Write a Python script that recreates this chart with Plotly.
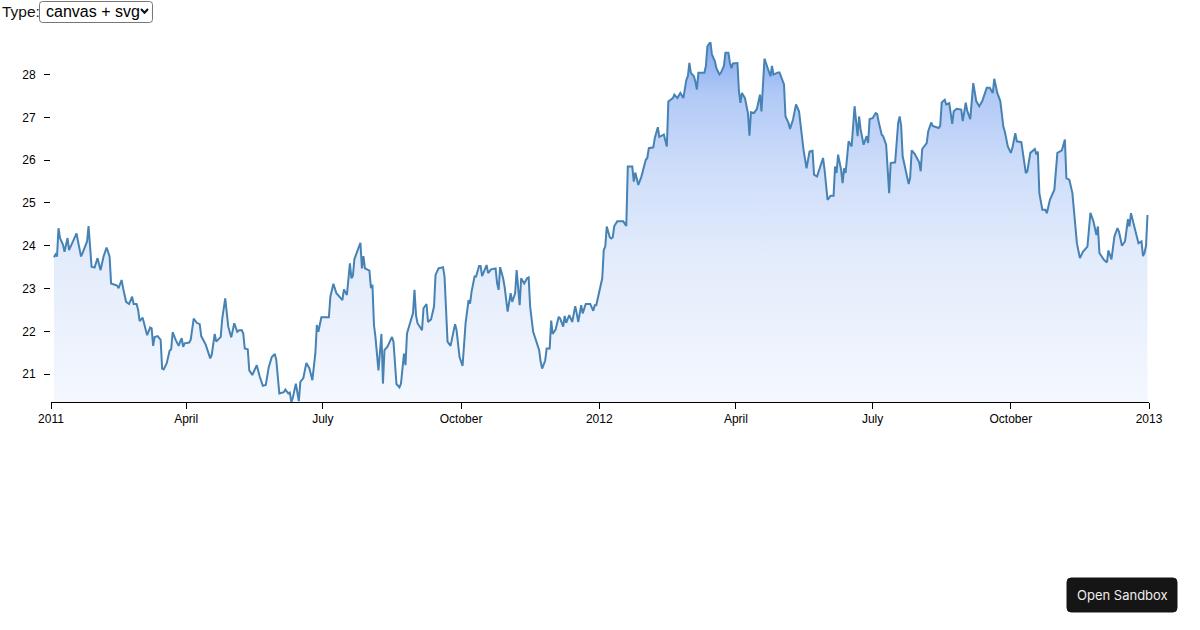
import pandas as pd
import plotly.graph_objects as go

# ---------------- data ----------------
days_from_2011_01_01 = [
    2, 3, 4, 5, 6, 8, 9, 11, 12, 14, 17, 18, 20, 21, 24, 25, 27, 29, 31, 33,
    35, 37, 39, 40, 44, 45, 47, 48, 50, 52, 54, 55, 57, 58, 59, 61, 63, 64, 66, 67,
    68, 69, 71, 73, 74, 75, 77, 79, 80, 81, 83, 85, 86, 87, 88, 89, 92, 93, 95, 97,
    99, 100, 103, 106, 107, 109, 110, 113, 114, 116, 118, 120, 122, 124, 125, 127, 128, 129, 131, 132,
    134, 137, 139, 141, 143, 145, 147, 149, 150, 152, 155, 156, 158, 159, 160, 161, 163, 165, 166, 168,
    170, 172, 174, 176, 177, 178, 180, 185, 186, 188, 190, 191, 194, 195, 197, 199, 200, 201, 202, 206,
    207, 208, 209, 212, 213, 214, 215, 216, 218, 220, 221, 222, 224, 227, 228, 230, 232, 233, 235, 236,
    237, 239, 241, 242, 243, 244, 247, 248, 250, 251, 253, 255, 256, 258, 261, 262, 264, 266, 268, 269,
    270, 272, 274, 276, 278, 279, 280, 282, 283, 285, 286, 287, 290, 291, 293, 296, 297, 298, 299, 301,
    302, 304, 306, 307, 309, 310, 312, 313, 315, 317, 318, 319, 321, 323, 325, 326, 327, 329, 330, 332,
    333, 334, 336, 338, 339, 341, 342, 343, 345, 347, 349, 350, 351, 353, 354, 356, 359, 361, 362, 363,
    365, 367, 368, 369, 370, 372, 373, 374, 375, 377, 379, 381, 383, 384, 387, 388, 389, 391, 393, 394,
    396, 397, 398, 401, 402, 404, 405, 408, 410, 411, 414, 415, 417, 419, 421, 423, 424, 425, 426, 428,
    429, 430, 431, 435, 436, 437, 439, 440, 442, 443, 445, 446, 448, 449, 451, 452, 453, 454, 457, 458,
    459, 460, 462, 464, 465, 466, 468, 470, 472, 473, 475, 476, 479, 480, 481, 484, 485, 488, 489, 491,
    492, 494, 496, 498, 500, 501, 503, 505, 507, 508, 510, 512, 514, 515, 517, 519, 521, 522, 523, 524,
    526, 527, 528, 529, 531, 533, 534, 535, 537, 538, 539, 541, 543, 544, 545, 547, 549, 550, 551, 553,
    554, 556, 558, 559, 562, 564, 565, 566, 567, 569, 571, 572, 573, 575, 577, 578, 579, 580, 583, 584,
    586, 587, 591, 592, 593, 595, 596, 598, 600, 601, 603, 606, 607, 609, 610, 612, 614, 616, 618, 620,
    623, 625, 627, 628, 630, 632, 634, 635, 637, 639, 640, 642, 643, 646, 649, 650, 652, 655, 656, 657,
    658, 660, 662, 663, 665, 668, 670, 673, 675, 676, 678, 680, 683, 685, 687, 690, 692, 694, 696, 697,
    698, 701, 703, 704, 706, 708, 710, 711, 713, 715, 717, 718, 719, 721, 724, 726, 727, 728, 729, 730,
]

price = [
    23.73, 23.80, 23.75, 24.41, 24.18, 24.02, 23.86, 24.18, 23.90, 24.06, 24.29, 24.10, 23.75, 23.83, 24.10, 24.46, 23.51, 23.49, 23.71, 23.43,
    23.75, 23.96, 23.75, 23.12, 23.07, 23.01, 23.20, 23.01, 22.69, 22.64, 22.81, 22.64, 22.64, 22.50, 22.24, 22.32, 22.03, 21.91, 22.09, 22.07,
    21.66, 21.87, 21.89, 21.80, 21.13, 21.11, 21.25, 21.55, 21.58, 21.98, 21.80, 21.66, 21.76, 21.84, 21.64, 21.72, 21.74, 21.80, 22.30, 22.20,
    22.17, 21.89, 21.69, 21.37, 21.45, 21.94, 21.76, 21.87, 22.30, 22.77, 22.11, 21.86, 22.19, 21.99, 22.02, 22.03, 21.95, 21.60, 21.58, 21.09,
    20.98, 21.21, 20.94, 20.73, 20.75, 21.17, 21.40, 21.47, 21.33, 20.55, 20.58, 20.64, 20.55, 20.57, 20.35, 20.45, 20.78, 20.37, 20.82, 20.91,
    21.26, 21.14, 20.86, 21.49, 22.15, 21.99, 22.33, 22.33, 22.81, 23.11, 22.89, 22.85, 22.73, 22.98, 22.85, 23.59, 23.24, 23.30, 23.69, 24.07,
    23.47, 23.76, 23.47, 23.42, 23.01, 23.09, 22.15, 21.87, 21.09, 21.94, 20.78, 21.56, 21.64, 21.87, 21.76, 20.77, 20.69, 20.78, 21.48, 21.21,
    21.95, 22.19, 22.42, 22.97, 22.38, 22.19, 22.03, 22.54, 22.64, 22.22, 22.28, 22.58, 23.32, 23.47, 23.50, 23.28, 21.76, 21.66, 21.99, 22.17,
    22.03, 21.40, 21.19, 22.19, 22.73, 22.65, 22.93, 23.28, 23.28, 23.53, 23.53, 23.29, 23.55, 23.36, 23.45, 23.47, 23.12, 22.97, 23.50, 23.24,
    23.04, 22.46, 22.89, 22.69, 22.89, 23.43, 22.61, 23.24, 23.12, 23.24, 23.26, 22.58, 21.99, 21.80, 21.56, 21.29, 21.13, 21.32, 21.60, 21.60,
    22.25, 21.94, 22.05, 22.34, 22.30, 22.11, 22.36, 22.20, 22.38, 22.22, 22.59, 22.42, 22.22, 22.61, 22.42, 22.64, 22.64, 22.48, 22.61, 22.61,
    22.89, 23.24, 23.90, 23.98, 24.45, 24.20, 24.17, 24.20, 24.46, 24.57, 24.57, 24.57, 24.46, 25.85, 25.85, 25.50, 25.71, 25.42, 25.61, 25.74,
    26.01, 26.05, 26.28, 26.30, 26.52, 26.77, 26.54, 26.60, 26.32, 27.37, 27.45, 27.53, 27.45, 27.57, 27.45, 27.88, 27.96, 28.27, 28.04, 27.96,
    27.84, 27.65, 28.04, 28.04, 28.20, 28.66, 28.76, 28.47, 28.31, 28.15, 28.00, 28.04, 28.20, 28.51, 28.51, 28.27, 28.15, 28.26, 28.27, 27.61,
    27.34, 27.57, 27.45, 27.10, 26.57, 27.12, 27.10, 27.20, 27.53, 27.14, 28.37, 28.27, 27.96, 28.20, 28.00, 28.05, 28.05, 27.77, 27.02, 26.87,
    26.73, 26.95, 27.30, 27.14, 26.48, 26.24, 25.81, 26.20, 26.22, 25.66, 25.62, 25.85, 26.05, 25.78, 25.07, 25.17, 25.17, 25.85, 25.70, 26.13,
    25.78, 25.46, 25.81, 25.70, 26.44, 26.32, 26.79, 27.26, 26.56, 27.02, 26.72, 26.36, 26.56, 26.40, 26.96, 26.98, 27.10, 27.08, 26.90, 26.60,
    26.56, 26.36, 25.23, 25.93, 25.95, 26.87, 27.02, 26.80, 26.09, 25.78, 25.44, 25.60, 26.23, 26.15, 26.01, 25.95, 25.74, 26.26, 26.40, 26.67,
    26.88, 26.80, 26.75, 26.80, 27.35, 27.41, 27.30, 27.33, 26.85, 27.14, 27.20, 27.18, 26.91, 27.34, 27.15, 26.96, 27.80, 27.38, 27.26, 27.38,
    27.69, 27.69, 27.57, 27.90, 27.57, 27.38, 26.79, 26.67, 26.32, 26.17, 26.28, 26.63, 26.44, 26.42, 25.70, 25.74, 26.17, 26.26, 26.13, 26.20,
    25.23, 24.84, 24.84, 24.76, 25.07, 25.31, 26.17, 26.23, 26.48, 25.58, 25.54, 25.23, 24.06, 23.71, 23.86, 23.98, 24.77, 24.57, 24.25, 24.45,
    23.83, 23.67, 23.61, 23.89, 23.68, 24.22, 24.41, 24.33, 24.00, 24.10, 24.62, 24.45, 24.76, 24.47, 24.06, 24.10, 23.76, 23.83, 24.00, 24.72,
]

x_tick_dates = ["2011-01-01", "2011-04-01", "2011-07-01", "2011-10-01", "2012-01-01",
                "2012-04-01", "2012-07-01", "2012-10-01", "2013-01-01"]
x_tick_labels = ["2011", "April", "July", "October", "2012", "April", "July", "October", "2013"]
y_tick_values = [21, 22, 23, 24, 25, 26, 27, 28]

# ---------------- layout geometry ----------------
W, H = 1200, 630
ML, MR, MT, MB = 51, 51, 42, 228
PW, PH = W - ML - MR, H - MT - MB

def fx(px):
    return (px - ML) / PW

def fy(py):
    return (H - MB - py) / PH

dates = pd.Timestamp("2011-01-01") + pd.to_timedelta(days_from_2011_01_01, unit="D")
ymin, ymax = min(price), max(price)

FONT = "Liberation Sans, Arial, sans-serif"

fig = go.Figure()
fig.add_trace(go.Scatter(
    x=dates, y=price, mode="lines",
    line=dict(color="#4682b4", width=2),
    fill="tozeroy",
    fillgradient=dict(
        type="vertical",
        colorscale=[
            [0.0, "rgba(100,149,237,0.07)"],
            [0.4, "rgba(100,149,237,0.18)"],
            [0.65, "rgba(100,149,237,0.32)"],
            [0.85, "rgba(100,149,237,0.5)"],
            [1.0, "rgba(100,149,237,0.8)"],
        ],
        start=ymin, stop=ymax,
    ),
    hoverinfo="skip",
    showlegend=False,
))


def rounded_rect(x0, y0, x1, y1, r):
    pts = [
        ("M", (x0 + r, y0)), ("L", (x1 - r, y0)), ("Q", (x1, y0), (x1, y0 + r)),
        ("L", (x1, y1 - r)), ("Q", (x1, y1), (x1 - r, y1)),
        ("L", (x0 + r, y1)), ("Q", (x0, y1), (x0, y1 - r)),
        ("L", (x0, y0 + r)), ("Q", (x0, y0), (x0 + r, y0)),
    ]
    s = ""
    for item in pts:
        cmd = item[0]
        coords = " ".join(f"{fx(p[0]):.5f},{fy(p[1]):.5f}" for p in item[1:])
        s += f"{cmd} {coords} "
    return s + "Z"


shapes = [
    dict(type="path", xref="paper", yref="paper", path=rounded_rect(39.5, 1.5, 152.5, 22.5, 3),
         line=dict(color="#767676", width=1), fillcolor="white", layer="above"),
    dict(type="path", xref="paper", yref="paper",
         path=f"M {fx(141):.5f},{fy(9):.5f} L {fx(144.5):.5f},{fy(12.8):.5f} L {fx(148):.5f},{fy(9):.5f}",
         line=dict(color="#111111", width=2), layer="above"),
    dict(type="path", xref="paper", yref="paper", path=rounded_rect(1067, 578, 1177, 612, 4),
         line=dict(color="#151515", width=1), fillcolor="#151515", layer="above"),
]

annotations = [
    dict(text="Type:", x=fx(0), y=fy(11.5), xref="paper", yref="paper", xanchor="left", yanchor="middle",
         showarrow=False, font=dict(family=FONT, size=15.5, color="#111111")),
    dict(text="canvas + svg", x=fx(43.5), y=fy(11.5), xref="paper", yref="paper", xanchor="left", yanchor="middle",
         showarrow=False, font=dict(family=FONT, size=16, color="#000000")),
    dict(text="Open Sandbox", x=fx(1122), y=fy(595), xref="paper", yref="paper", xanchor="center", yanchor="middle",
         showarrow=False, font=dict(family="Inter, Roboto, sans-serif", size=13, color="#eeeeee")),
]

fig.update_layout(
    width=W, height=H,
    margin=dict(l=ML, r=MR, t=MT, b=MB, pad=0),
    paper_bgcolor="white", plot_bgcolor="white",
    font=dict(family=FONT, size=12, color="#000000"),
    shapes=shapes, annotations=annotations,
    showlegend=False,
    xaxis=dict(
        type="date", range=["2011-01-01", "2013-01-01"],
        tickvals=x_tick_dates, ticktext=x_tick_labels,
        showgrid=False, zeroline=False,
        showline=True, linecolor="#000000", linewidth=1,
        ticks="outside", ticklen=6, tickcolor="#000000", tickwidth=1,
        tickfont=dict(family=FONT, size=12, color="#000000"),
        fixedrange=True,
    ),
    yaxis=dict(
        range=[ymin, ymax],
        tickvals=y_tick_values,
        showgrid=False, zeroline=False, showline=False,
        ticks="outside", ticklen=6, tickcolor="#000000", tickwidth=1,
        ticklabelstandoff=6,
        tickfont=dict(family=FONT, size=12, color="#000000"),
        fixedrange=True,
    ),
)

fig.write_html(
    "out.html",
    config={"displayModeBar": False},
    post_script="document.body.style.margin='0';document.body.style.overflow='hidden';",
)
